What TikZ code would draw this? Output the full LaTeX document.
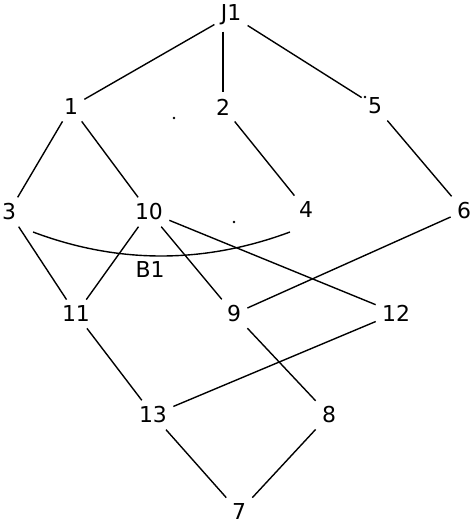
\documentclass[tikz,border=0pt]{standalone}
\usepackage{fontspec}
\setmainfont{DejaVu Sans}
\tikzset{vertex/.style = {rectangle, inner sep=3bp, font=\fontsize{11}{13}\selectfont},
         edge/.style = {line width=0.7pt},
         speck/.pic = {\fill (0,0) circle (0.7bp);}}

\begin{document}
\begin{tikzpicture}[x=0.5bp,y=-0.5bp]
        \useasboundingbox (0,0) rectangle (474,527);

        \node[vertex] (J1) at (231,15) {J1};
        \node[vertex] (n1) at (71,107) {1};
        \node[vertex] (n2) at (223,107) {2};
        \node[vertex] (n5) at (375,106) {5};
        \node[vertex] (n3) at (9,212) {3};
        \node[vertex] (n10) at (149,212) {10};
        \node[vertex] (n4) at (306,210) {4};
        \node[vertex] (n6) at (464,211) {6};
        \node[vertex] (n11) at (76,314) {11};
        \node[vertex] (n9) at (234,314) {9};
        \node[vertex] (n12) at (396,313) {12};
        \node[vertex] (n13) at (153,415) {13};
        \node[vertex] (n8) at (329,415) {8};
        \node[vertex] (n7) at (239,512) {7};

        \draw[edge](J1)--(n1);
        \draw[edge](J1.south -| n2)--(n2);
        \draw[edge](J1)--(n5);
        \draw[edge](n1)--(n3);
        \draw[edge](n1)--(n10);
        \draw[edge](n2)--(n4);
        \draw[edge](n5)--(n6);
        \draw[edge](n3)--(n11);
        \draw[edge](n10)--(n11);
        \draw[edge](n10)--(n9);
        \draw[edge](n10)--(n12);
        \draw[edge](n6)--(n9);
        \draw[edge](n11)--(n13);
        \draw[edge](n9)--(n8);
        \draw[edge](n12)--(n13);
        \draw[edge](n13)--(n7);
        \draw[edge](n8)--(n7);

        \coordinate (b1a) at (33,232);
        \coordinate (b1b) at (290,232);
        \draw[edge](b1a) .. controls (118,264) and (204,264) .. (b1b);
        \node[vertex] (B1) at (150,270) {B1};

        \draw (174,118)pic{speck};
        \draw (234,222)pic{speck};
        \draw (365,97)pic{speck};
\end{tikzpicture}
\end{document}
